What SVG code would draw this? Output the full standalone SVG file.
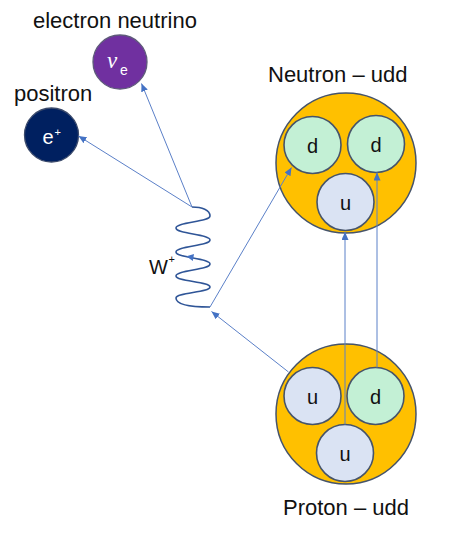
<svg xmlns="http://www.w3.org/2000/svg" width="474" height="534" viewBox="0 0 474 534">
<defs>
<style>
.lbl{font-family:"Liberation Sans",Arial,sans-serif;font-size:22px;fill:#111}
.q{font-family:"Liberation Sans",Arial,sans-serif;font-size:20px;fill:#111;text-anchor:middle}
.big{fill:#FFC000;stroke:#46546A;stroke-width:1.5}
.u{fill:#DAE3F3;stroke:#46546A;stroke-width:1.6}
.d{fill:#C3F0D5;stroke:#46546A;stroke-width:1.6}
.con{stroke:#5B80C8;stroke-width:1;fill:none}
</style>
<marker id="ah" markerUnits="userSpaceOnUse" markerWidth="9" markerHeight="8" refX="8" refY="3.5" orient="auto">
<path d="M0,0 L8,3.5 L0,7 z" fill="#4472C4"/>
</marker>
</defs>
<rect width="474" height="534" fill="#fff"/>

<g id="neutrino">
<text class="lbl" x="33" y="28">electron neutrino</text>
<circle cx="120" cy="62" r="27" fill="#7030A0" stroke="#5E5A7A" stroke-width="1.3"/>
<text x="107" y="67.5" font-family="'Liberation Serif',serif" font-style="italic" font-size="23" fill="#fff">ν</text>
<text x="120" y="75" font-family="'Liberation Sans',Arial,sans-serif" font-size="14" fill="#fff">e</text>
</g>

<g id="positron">
<text class="lbl" x="14" y="101">positron</text>
<circle cx="51.5" cy="135" r="27" fill="#002060" stroke="#3B4A6B" stroke-width="1.3"/>
<text x="42.5" y="143.5" font-family="'Liberation Sans',Arial,sans-serif" font-size="20" fill="#fff">e</text>
<text x="54.5" y="136" font-family="'Liberation Sans',Arial,sans-serif" font-size="11" fill="#fff">+</text>
</g>

<g id="neutron">
<text class="lbl" x="268" y="82">Neutron – udd</text>
<circle class="big" cx="346" cy="163" r="70"/>
<circle class="d" cx="312.5" cy="145" r="28.5"/>
<text class="q" x="312.5" y="153">d</text>
<circle class="d" cx="376" cy="144" r="28.5"/>
<text class="q" x="376" y="152">d</text>
<circle class="u" cx="345.5" cy="202" r="28.5"/>
<text class="q" x="345.5" y="210">u</text>
</g>

<g id="proton">
<circle class="big" cx="346" cy="414" r="70"/>
<circle class="u" cx="312.5" cy="396" r="28.5"/>
<text class="q" x="312.5" y="404">u</text>
<circle class="d" cx="375.5" cy="396" r="28.5"/>
<text class="q" x="375.5" y="404">d</text>
<circle class="u" cx="345" cy="453" r="28.5"/>
<text class="q" x="345" y="461">u</text>
<text class="lbl" x="283" y="515">Proton – udd</text>
</g>

<g id="wboson">
<path d="M192,207 C202,207 210,210 210,216 C210,222 176,222 176,228 C176,234 210,234 210,240 C210,246 176,246 176,252 C176,258 210,258 210,264 C210,270 176,270 176,276 C176,281.5 210,281.5 210,287 C210,292.5 176,292.5 176,298 C176,304 186,307 210,307" fill="none" stroke="#2F5597" stroke-width="1.6"/>
<polygon points="186.5,256.3 194,254 192.8,261" fill="#4472C4"/>
<text x="149" y="273.5" font-family="'Liberation Sans',Arial,sans-serif" font-size="20" fill="#111">W</text>
<text x="168.5" y="263" font-family="'Liberation Sans',Arial,sans-serif" font-size="11" fill="#111">+</text>
</g>

<g id="connectors">
<line class="con" x1="192" y1="207" x2="141.5" y2="83.5" marker-end="url(#ah)"/>
<line class="con" x1="192" y1="207" x2="78.5" y2="136" marker-end="url(#ah)"/>
<line class="con" x1="288.5" y1="372" x2="211.5" y2="311.5" marker-end="url(#ah)"/>
<line class="con" x1="210" y1="307" x2="291.5" y2="167.5" marker-end="url(#ah)"/>
<line class="con" x1="345" y1="424.5" x2="345" y2="232" marker-end="url(#ah)"/>
<line class="con" x1="377" y1="367.5" x2="377" y2="172.5" marker-end="url(#ah)"/>
</g>
</svg>
